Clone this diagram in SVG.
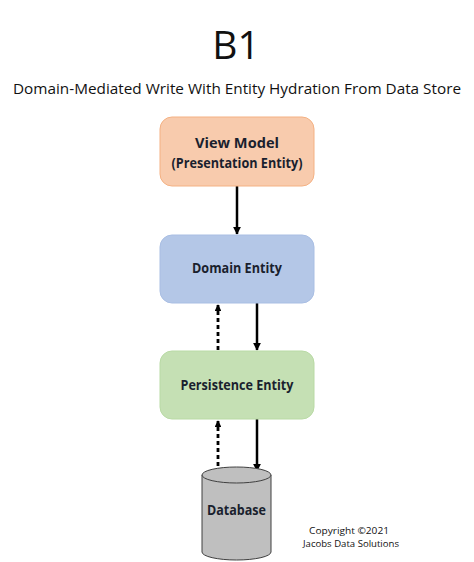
<svg xmlns="http://www.w3.org/2000/svg" width="474" height="562" viewBox="0 0 474 562">
<style>
.box{stroke-width:1}
.lbl{font-family:"Open Sans","Liberation Sans",sans-serif;font-weight:bold;font-size:13.5px;fill:#1a1f2e;text-anchor:middle}
.solid{stroke:#000;stroke-width:2.5;fill:none}
.dash{stroke:#000;stroke-width:2.8;fill:none;stroke-dasharray:4,3}
.small{font-family:"Open Sans","Liberation Sans",sans-serif;font-size:9.5px;fill:#111;text-anchor:middle}
</style>
<defs>
<marker id="ah" viewBox="0 0 10 10" refX="9" refY="5" markerWidth="3.2" markerHeight="3.2" orient="auto" markerUnits="strokeWidth">
<path d="M0,0 L10,5 L0,10 z" fill="#000"/>
</marker>
<marker id="ahs" viewBox="0 0 10 10" refX="9" refY="5" markerWidth="2.4" markerHeight="2.4" orient="auto" markerUnits="strokeWidth">
<path d="M0,0 L10,5 L0,10 z" fill="#000"/>
</marker>
</defs>
<rect width="474" height="562" fill="#fff"/>
<text x="236" y="59" font-family="Open Sans, Liberation Sans, sans-serif" font-size="39" text-anchor="middle" fill="#111">B1</text>
<text x="237" y="94" font-family="Open Sans, Liberation Sans, sans-serif" font-size="14" text-anchor="middle" fill="#111" textLength="448" lengthAdjust="spacingAndGlyphs">Domain-Mediated Write With Entity Hydration From Data Store</text>

<g id="connectors">
<line class="solid" x1="237" y1="186" x2="237" y2="234" marker-end="url(#ah)"/>
<line class="solid" x1="257" y1="303" x2="257" y2="350" marker-end="url(#ah)"/>
<line class="dash" x1="218" y1="350" x2="218" y2="305" marker-end="url(#ahs)"/>
<line class="solid" x1="257" y1="419" x2="257" y2="471" marker-end="url(#ah)"/>
<line class="dash" x1="218" y1="466" x2="218" y2="421" marker-end="url(#ahs)"/>
</g>

<g id="view-model">
<rect class="box" x="160" y="117" width="154" height="69" rx="12" fill="#F8CBAD" stroke="#F4B183"/>
<text class="lbl" x="237" y="148" textLength="84" lengthAdjust="spacingAndGlyphs">View Model</text>
<text class="lbl" x="237" y="168" textLength="131" lengthAdjust="spacingAndGlyphs">(Presentation Entity)</text>
</g>

<g id="domain-entity">
<rect class="box" x="160" y="235" width="154" height="68" rx="12" fill="#B4C7E7" stroke="#A9BEE3"/>
<text class="lbl" x="237" y="273" textLength="90" lengthAdjust="spacingAndGlyphs">Domain Entity</text>
</g>

<g id="persistence-entity">
<rect class="box" x="160" y="351" width="154" height="68" rx="12" fill="#C5E0B4" stroke="#B9DAA5"/>
<text class="lbl" x="237" y="390" textLength="113" lengthAdjust="spacingAndGlyphs">Persistence Entity</text>
</g>

<g id="database">
<path d="M202,475 L202,552 A34.5,8 0 0 0 271,552 L271,475" fill="#BFBFBF" stroke="#404040" stroke-width="1"/>
<ellipse cx="236.5" cy="475" rx="34.5" ry="8" fill="#BFBFBF" stroke="#404040" stroke-width="1"/>
<text class="lbl" x="236.5" y="515" textLength="59" lengthAdjust="spacingAndGlyphs">Database</text>
</g>

<g id="copyright">
<text class="small" x="349" y="534" textLength="80" lengthAdjust="spacingAndGlyphs">Copyright ©2021</text>
<text class="small" x="351" y="547" textLength="96" lengthAdjust="spacingAndGlyphs">Jacobs Data Solutions</text>
</g>
</svg>
